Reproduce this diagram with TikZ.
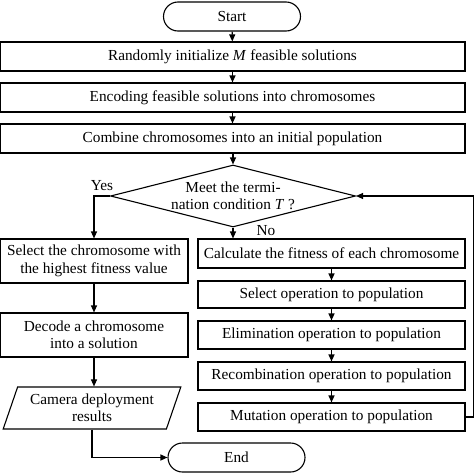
\documentclass[tikz,border=0pt]{standalone}
\usepackage{fontspec}
\setmainfont{Liberation Serif}
\usetikzlibrary{shapes.geometric,arrows.meta}
\begin{document}
\begin{tikzpicture}[x=1pt,y=-1pt,
  every node/.style={font=\fontsize{15.3}{17.5}\selectfont},
  box/.style={draw,line width=1.1pt,inner sep=0pt,align=center},
  term/.style={box,rounded corners=14.5pt,minimum width=137pt,minimum height=29pt},
  arr/.style={line width=1.1pt,-{Triangle[length=7pt,width=6pt]}},
  lin/.style={line width=1.1pt}]
\useasboundingbox (0,0) rectangle (474,474);
\node[term] (start) at (232,16.5) {Start};
\node[box,minimum width=465pt,minimum height=29pt] (b1) at (232.5,56.5) {Randomly initialize \textit{M} feasible solutions};
\node[box,minimum width=465pt,minimum height=29pt] (b2) at (232.5,97.5) {Encoding feasible solutions into chromosomes};
\node[box,minimum width=465pt,minimum height=29pt] (b3) at (232.5,138.5) {Combine chromosomes into an initial population};
\node[box,diamond,minimum width=245pt,minimum height=62pt] (dec) at (233,196) {};
\node[align=center] (dect) at (dec) {Meet the termi-\\nation condition \textit{T} ?};
\node[box,minimum width=188pt,minimum height=44pt] (l1) at (94,261) {Select the chromosome with\\the highest fitness value};
\node[box,minimum width=188pt,minimum height=44pt] (l2) at (94,335) {Decode a chromosome\\into a solution};
\node[box,trapezium,trapezium left angle=67,trapezium right angle=113,trapezium stretches=true,minimum width=178pt,minimum height=42pt] (res) at (92,408) {Camera deployment\\results};
\node[term] (end) at (236.5,457.5) {End};
\node[box,minimum width=267pt,minimum height=29pt] (r1) at (331.5,253.5) {Calculate the fitness of each chromosome};
\node[box,minimum width=267pt,minimum height=27pt] (r2) at (331.5,294.5) {Select operation to population};
\node[box,minimum width=267pt,minimum height=28pt] (r3) at (331.5,335) {Elimination operation to population};
\node[box,minimum width=267pt,minimum height=28pt] (r4) at (331.5,376) {Recombination operation to population};
\node[box,minimum width=267pt,minimum height=28pt] (r5) at (331.5,417) {Mutation operation to population};
\node (yes) at (102,186) {Yes};
\node (no) at (266,231) {No};
\coordinate (fb) at (473.5,417);
\draw[arr] (start) -- (b1);
\draw[arr] (b1) -- (b2);
\draw[arr] (b2) -- (b3);
\draw[arr] (b3.south -| dec.north) -- (dec.north);
\draw[arr] (dec.west) -| (l1.north);
\draw[arr] (dec.south) -- (dec.south |- r1.north);
\draw[arr] (r1) -- (r2);
\draw[arr] (r2) -- (r3);
\draw[arr] (r3) -- (r4);
\draw[arr] (r4) -- (r5);
\draw[arr] (r5.east) -- (fb) |- (dec.east);
\draw[arr] (l1) -- (l2);
\draw[arr] (l2.south) -- (l2.south |- res.north);
\draw[arr] (res.south) |- (end.west);
\end{tikzpicture}
\end{document}
